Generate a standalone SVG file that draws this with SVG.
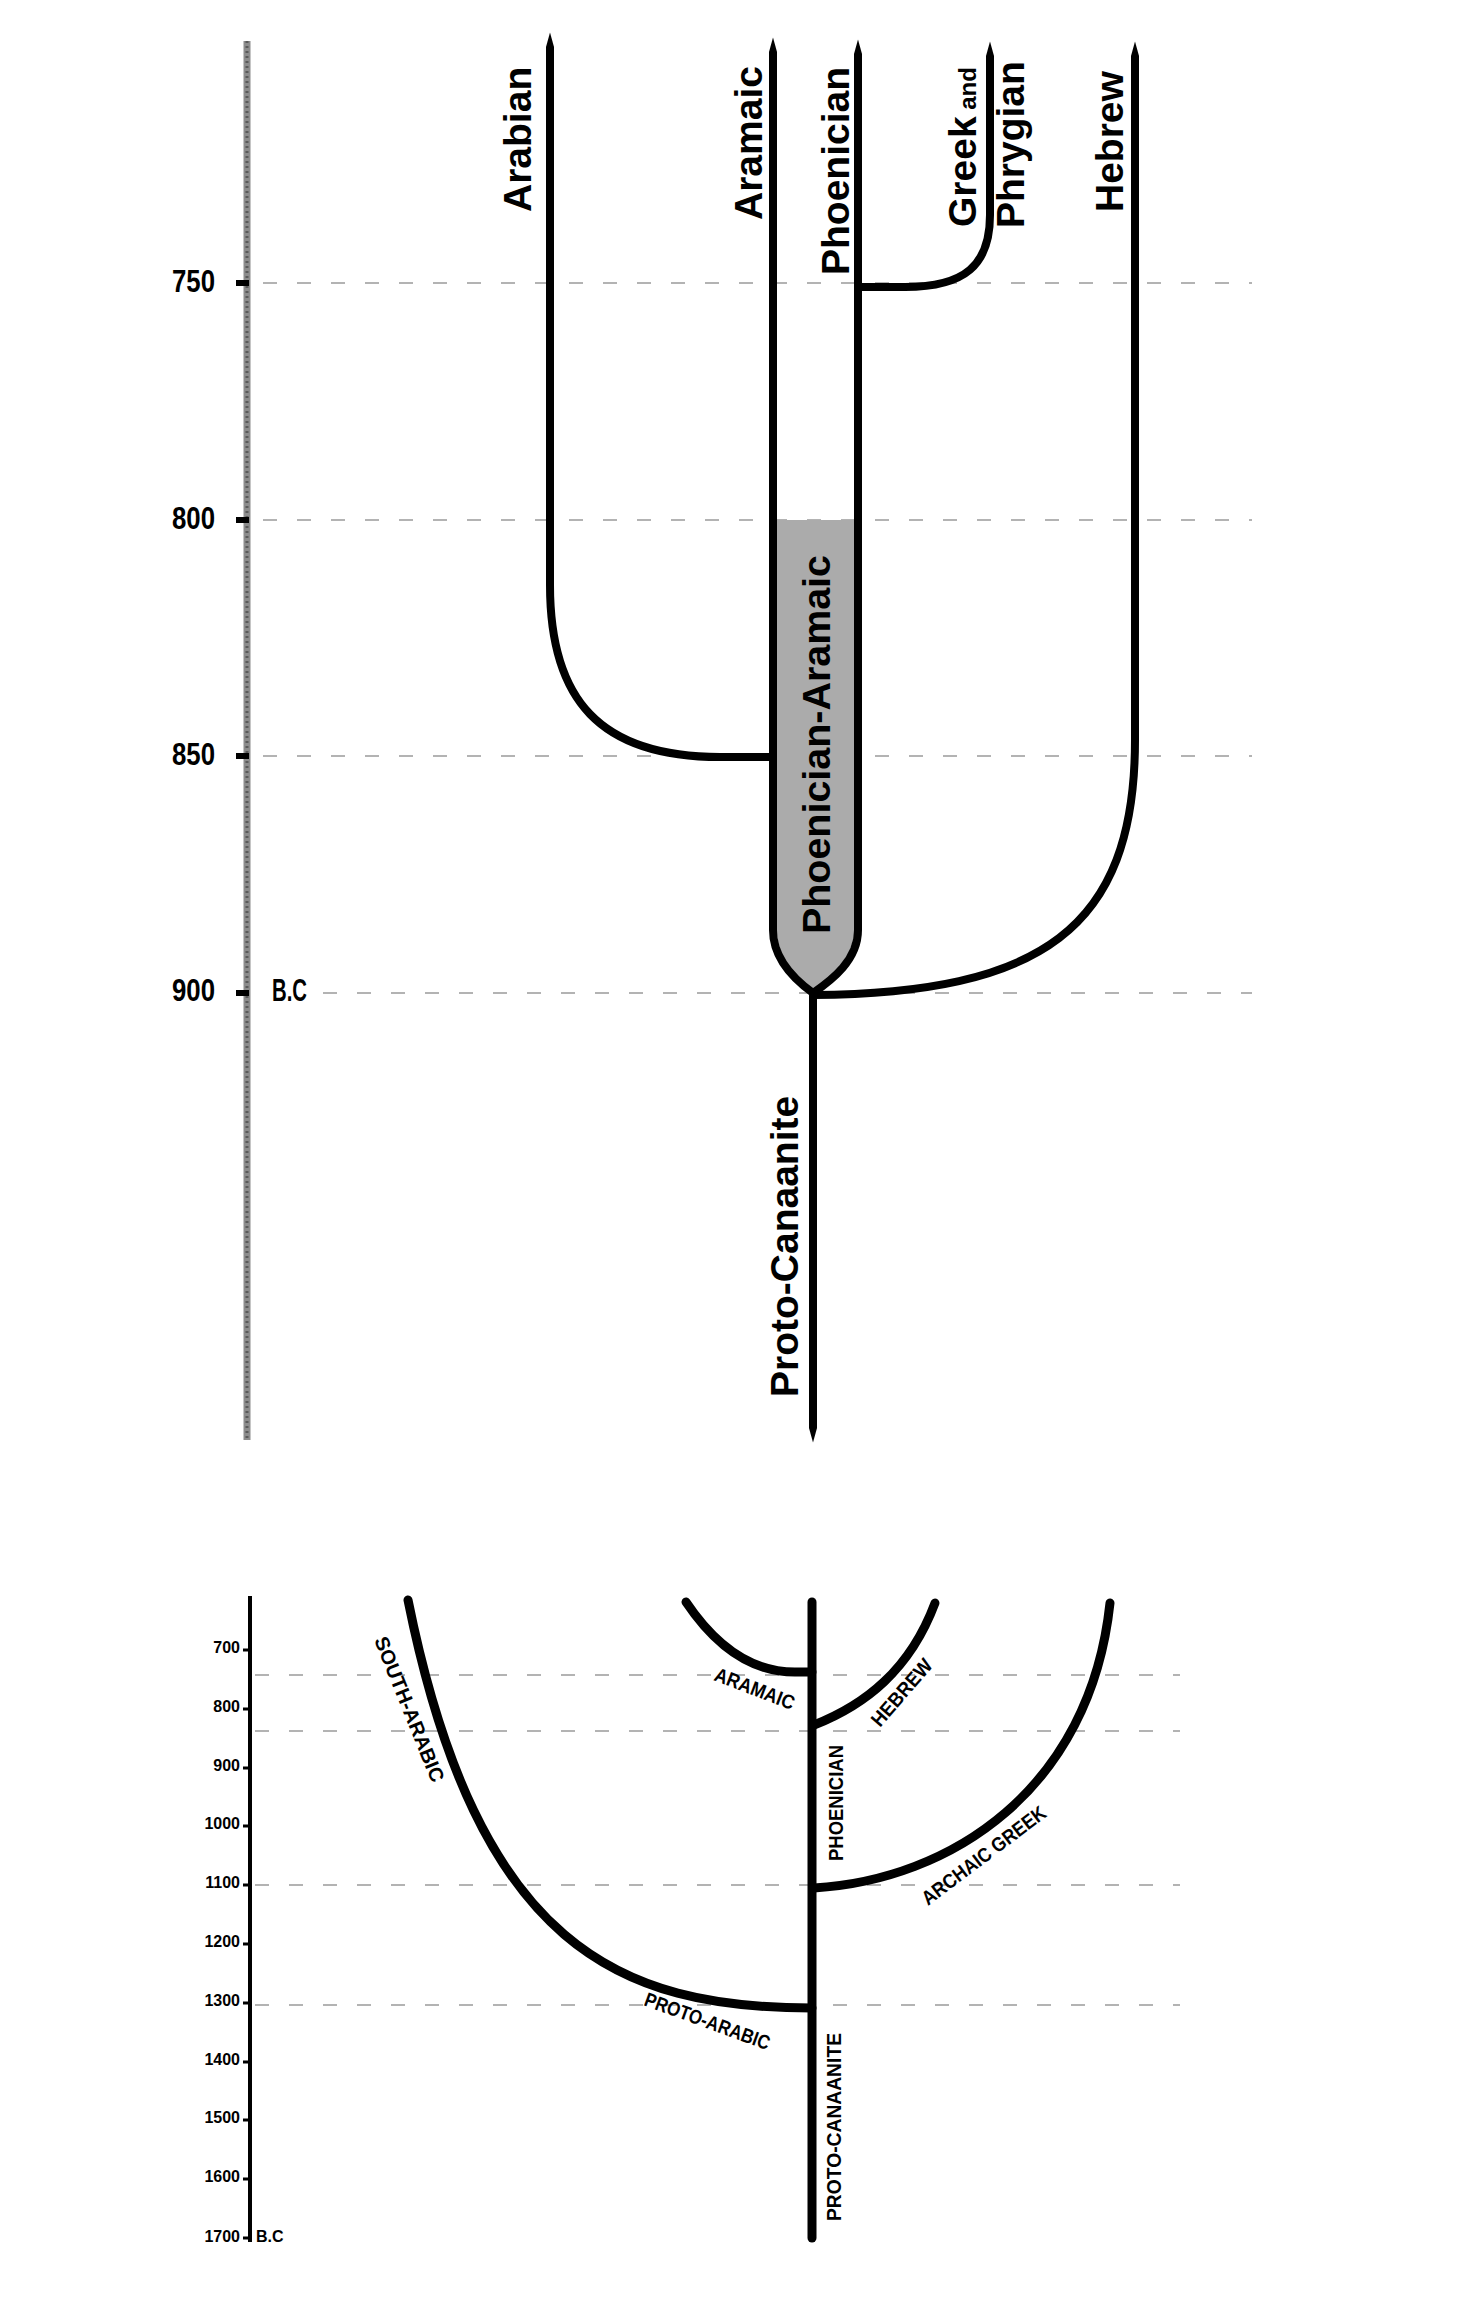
<svg xmlns="http://www.w3.org/2000/svg" width="1483" height="2299" viewBox="0 0 1483 2299">
<defs>
<marker id="tip" viewBox="0 -0.5 2 1" markerWidth="2" markerHeight="1" refX="0" refY="0" orient="auto-start-reverse">
<path d="M0,-0.5 L1.8,0 L0,0.5 Z" fill="#000"/>
</marker>
<style>
.grid{stroke:#9a9a9a;stroke-width:1.3;stroke-dasharray:14 20;fill:none}
.br{fill:none;stroke:#000;stroke-width:8}
.br2{fill:none;stroke:#000;stroke-width:9;stroke-linecap:round}
.lab{font-family:"Liberation Sans",Arial,sans-serif;font-weight:bold;font-size:39px;fill:#000}
.yr{font-family:"Liberation Sans",Arial,sans-serif;font-weight:bold;font-size:32px;fill:#000}
.yr2{font-family:"Liberation Sans",Arial,sans-serif;font-weight:bold;font-size:16px;fill:#000}
.sm{font-family:"Liberation Sans",Arial,sans-serif;font-weight:bold;font-size:20px;fill:#000}
</style>
</defs>
<rect width="1483" height="2299" fill="#fff"/>

<!-- top timeline -->
<g id="top-axis">
<line x1="247" y1="41" x2="247" y2="1440" stroke="#8c8c8c" stroke-width="7"/>
<line x1="247" y1="41" x2="247" y2="1440" stroke="#5a5a5a" stroke-width="3" stroke-dasharray="2 3"/>
<rect x="236" y="280" width="13" height="6"/>
<rect x="236" y="517" width="13" height="6"/>
<rect x="236" y="753" width="13" height="6"/>
<rect x="236" y="990" width="13" height="6"/>
<text class="yr" x="215" y="292" text-anchor="end" textLength="43" lengthAdjust="spacingAndGlyphs">750</text>
<text class="yr" x="215" y="529" text-anchor="end" textLength="43" lengthAdjust="spacingAndGlyphs">800</text>
<text class="yr" x="215" y="765" text-anchor="end" textLength="43" lengthAdjust="spacingAndGlyphs">850</text>
<text class="yr" x="215" y="1001" text-anchor="end" textLength="43" lengthAdjust="spacingAndGlyphs">900</text>
<text class="yr" x="272" y="1001" textLength="35" lengthAdjust="spacingAndGlyphs">B.C</text>
</g>
<g id="top-grid">
<line class="grid" x1="263" y1="283" x2="1252" y2="283"/>
<line class="grid" x1="263" y1="520" x2="1252" y2="520"/>
<line class="grid" x1="263" y1="756" x2="1252" y2="756"/>
<line class="grid" x1="323" y1="993" x2="1252" y2="993"/>
</g>

<g id="phoenician-aramaic">
<path d="M777,520 L854,520 L854,930 C854,958 830,977 813,990 C796,977 777,958 777,930 Z" fill="#ababab"/>
<text class="lab" transform="translate(830,934) rotate(-90)" textLength="379" lengthAdjust="spacingAndGlyphs">Phoenician-Aramaic</text>
</g>

<g id="top-connectors">
<path class="br" d="M550,47 L550,585 C550,700 600,757 720,757 L773,757" marker-start="url(#tip)"/>
<path class="br" d="M773,52 L773,930 C773,960 795,980 813,993" marker-start="url(#tip)"/>
<path class="br" d="M858,54 L858,930 C858,960 832,980 813,993" marker-start="url(#tip)"/>
<path class="br" d="M990,56 L990,215 C990,265 965,287 905,287 L858,287" marker-start="url(#tip)"/>
<path class="br" d="M1135,56 L1135,740 C1135,930 1040,993 813,995" marker-start="url(#tip)"/>
<path class="br" d="M813,990 L813,1428" marker-end="url(#tip)"/>
</g>

<g id="top-labels">
<text class="lab" transform="translate(531,212) rotate(-90)">Arabian</text>
<text class="lab" transform="translate(762,220) rotate(-90)">Aramaic</text>
<text class="lab" transform="translate(849,275) rotate(-90)">Phoenician</text>
<text class="lab" transform="translate(976,227) rotate(-90)">Greek<tspan font-size="24"> and</tspan></text>
<text class="lab" transform="translate(1024,228) rotate(-90)">Phrygian</text>
<text class="lab" transform="translate(1123,212) rotate(-90)">Hebrew</text>
<text class="lab" transform="translate(798,1397) rotate(-90)">Proto-Canaanite</text>
</g>

<!-- bottom timeline -->
<g id="bottom-axis">
<line x1="250" y1="1596" x2="250" y2="2242" stroke="#000" stroke-width="4"/>
<g stroke="#000" stroke-width="3">
<line x1="243" y1="1650" x2="250" y2="1650"/>
<line x1="243" y1="1709" x2="250" y2="1709"/>
<line x1="243" y1="1768" x2="250" y2="1768"/>
<line x1="243" y1="1826" x2="250" y2="1826"/>
<line x1="243" y1="1885" x2="250" y2="1885"/>
<line x1="243" y1="1944" x2="250" y2="1944"/>
<line x1="243" y1="2003" x2="250" y2="2003"/>
<line x1="243" y1="2062" x2="250" y2="2062"/>
<line x1="243" y1="2120" x2="250" y2="2120"/>
<line x1="243" y1="2179" x2="250" y2="2179"/>
<line x1="243" y1="2238" x2="250" y2="2238"/>
</g>
<text class="yr2" x="240" y="1653" text-anchor="end">700</text>
<text class="yr2" x="240" y="1712" text-anchor="end">800</text>
<text class="yr2" x="240" y="1771" text-anchor="end">900</text>
<text class="yr2" x="240" y="1829" text-anchor="end">1000</text>
<text class="yr2" x="240" y="1888" text-anchor="end">1100</text>
<text class="yr2" x="240" y="1947" text-anchor="end">1200</text>
<text class="yr2" x="240" y="2006" text-anchor="end">1300</text>
<text class="yr2" x="240" y="2065" text-anchor="end">1400</text>
<text class="yr2" x="240" y="2123" text-anchor="end">1500</text>
<text class="yr2" x="240" y="2182" text-anchor="end">1600</text>
<text class="yr2" x="240" y="2242" text-anchor="end">1700</text>
<text class="yr2" x="256" y="2242">B.C</text>
</g>
<g id="bottom-grid">
<line class="grid" x1="255" y1="1675" x2="1180" y2="1675"/>
<line class="grid" x1="255" y1="1731" x2="1180" y2="1731"/>
<line class="grid" x1="255" y1="1885" x2="1180" y2="1885"/>
<line class="grid" x1="255" y1="2005" x2="1180" y2="2005"/>
</g>

<g id="bottom-connectors">
<path class="br2" d="M812,1602 L812,2238"/>
<path class="br2" d="M686,1602 Q735,1675 800,1672 L812,1672"/>
<path class="br2" d="M814,1725 C865,1705 910,1670 935,1603"/>
<path class="br2" d="M814,1888 C950,1880 1090,1790 1110,1603"/>
<path class="br2" d="M812,2008 C620,2008 478,1948 408,1600"/>
</g>

<g id="bottom-labels">
<text class="sm" transform="translate(374,1640) rotate(68)" textLength="155" lengthAdjust="spacingAndGlyphs">SOUTH-ARABIC</text>
<text class="sm" transform="translate(713,1680) rotate(21)" textLength="84" lengthAdjust="spacingAndGlyphs">ARAMAIC</text>
<text class="sm" transform="translate(880,1728) rotate(-49)" textLength="82" lengthAdjust="spacingAndGlyphs">HEBREW</text>
<text class="sm" transform="translate(843,1861) rotate(-90)" textLength="116" lengthAdjust="spacingAndGlyphs">PHOENICIAN</text>
<text class="sm" transform="translate(928,1906) rotate(-37)" textLength="150" lengthAdjust="spacingAndGlyphs">ARCHAIC GREEK</text>
<text class="sm" transform="translate(643,2005) rotate(20)" textLength="132" lengthAdjust="spacingAndGlyphs">PROTO-ARABIC</text>
<text class="sm" transform="translate(841,2221) rotate(-90)" textLength="188" lengthAdjust="spacingAndGlyphs">PROTO-CANAANITE</text>
</g>
</svg>
